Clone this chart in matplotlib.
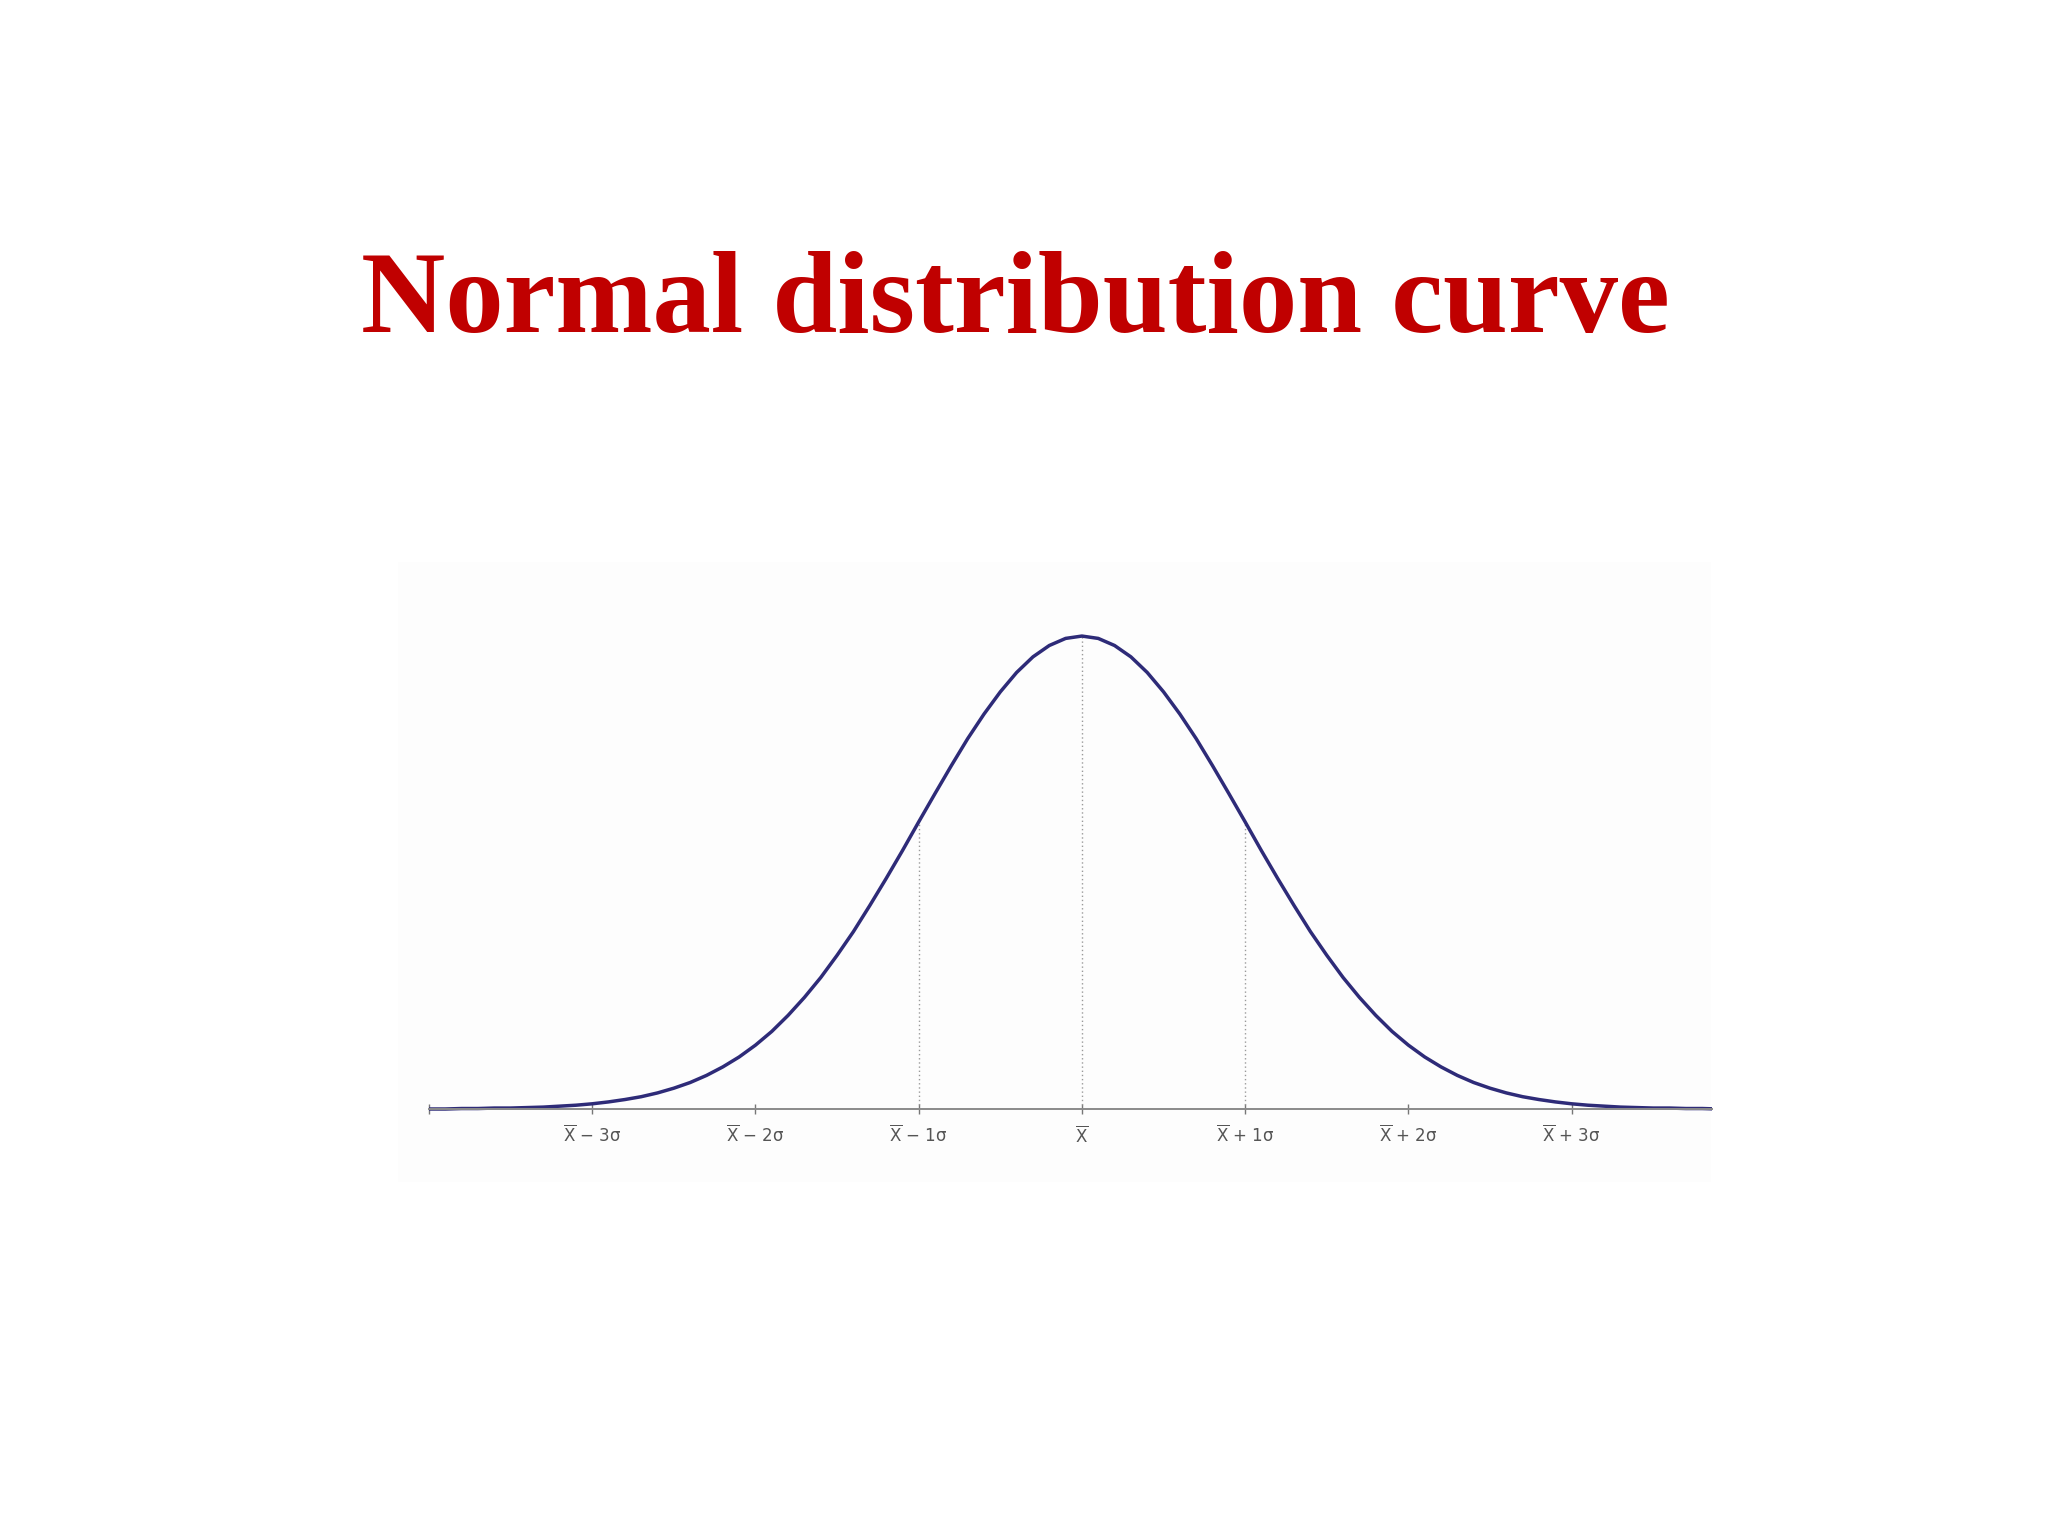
import numpy as np
import matplotlib
matplotlib.use("Agg")
import matplotlib.pyplot as plt
from matplotlib.patches import Rectangle

# curve heights (relative to peak) read at 0.1 sigma steps, from 0 to 4 sigma
half_heights = [1.000, 0.995, 0.980, 0.956, 0.923, 0.882, 0.835, 0.783, 0.726, 0.667,
                0.607, 0.546, 0.487, 0.430, 0.375, 0.325, 0.278, 0.236, 0.198, 0.164,
                0.135, 0.110, 0.089, 0.071, 0.056, 0.044, 0.034, 0.026, 0.020, 0.015,
                0.011, 0.008, 0.006, 0.004, 0.003, 0.002, 0.002, 0.001, 0.001, 0.000,
                0.000]
steps = [round(0.1 * i, 1) for i in range(len(half_heights))]

curve_x = [-s for s in steps[::-1]] + steps[1:]
curve_y = half_heights[::-1] + half_heights[1:]

tick_pos = [-3, -2, -1, 0, 1, 2, 3]
xbar = r"$\overline{\mathrm{X}}$"
tick_labels = [xbar + " − 3σ", xbar + " − 2σ", xbar + " − 1σ", xbar,
               xbar + " + 1σ", xbar + " + 2σ", xbar + " + 3σ"]
guide_pos = [-1, 0, 1]
guide_top = [0.607, 1.000, 0.607]

title = "Normal distribution curve"

plt.rcParams["mathtext.fontset"] = "dejavusans"

fig = plt.figure(figsize=(20.48, 15.36), dpi=100)
fig.patch.set_facecolor("white")

# faint panel behind the chart (pasted image look)
bg = fig.add_axes([398 / 2048, 1 - 1182 / 1536, (1711 - 398) / 2048, (1182 - 562) / 1536], zorder=-1)
bg.set_axis_off()
bg.add_patch(Rectangle((0, 0), 1, 1, transform=bg.transAxes, facecolor="#fdfdfd", edgecolor="none"))

fig.text(0.496, 1 - 332 / 1536, title, ha="center", va="baseline",
         fontsize=84, family="Liberation Serif", fontweight="bold", color="#c00000")

ax = fig.add_axes([429 / 2048, 0.2626, (1712 - 429) / 2048, 0.3387], zorder=2)
ax.set_facecolor("none")
ax.set_xlim(-4.0, 3.86)
ax.set_ylim(-0.05, 1.05)

for s in ["left", "right", "top"]:
    ax.spines[s].set_visible(False)
ax.spines["bottom"].set_position(("data", 0))
ax.spines["bottom"].set_color("#8a8a8a")
ax.spines["bottom"].set_linewidth(1.4)
ax.set_yticks([])

ax.set_xticks(tick_pos)
ax.set_xticklabels(tick_labels, fontsize=12, color="#555555")
ax.set_xticks([-4.0], minor=True)
ax.tick_params(axis="x", which="both", direction="inout", length=7, width=1, color="#777777", pad=8)

ax.vlines(guide_pos, 0, guide_top, colors="#9a9a9a", linestyles=(0, (1, 2)), linewidth=1)
ax.plot(curve_x, curve_y, color="#2e2b78", linewidth=2.5, solid_capstyle="butt")

fig.savefig("out.png", dpi=100)
